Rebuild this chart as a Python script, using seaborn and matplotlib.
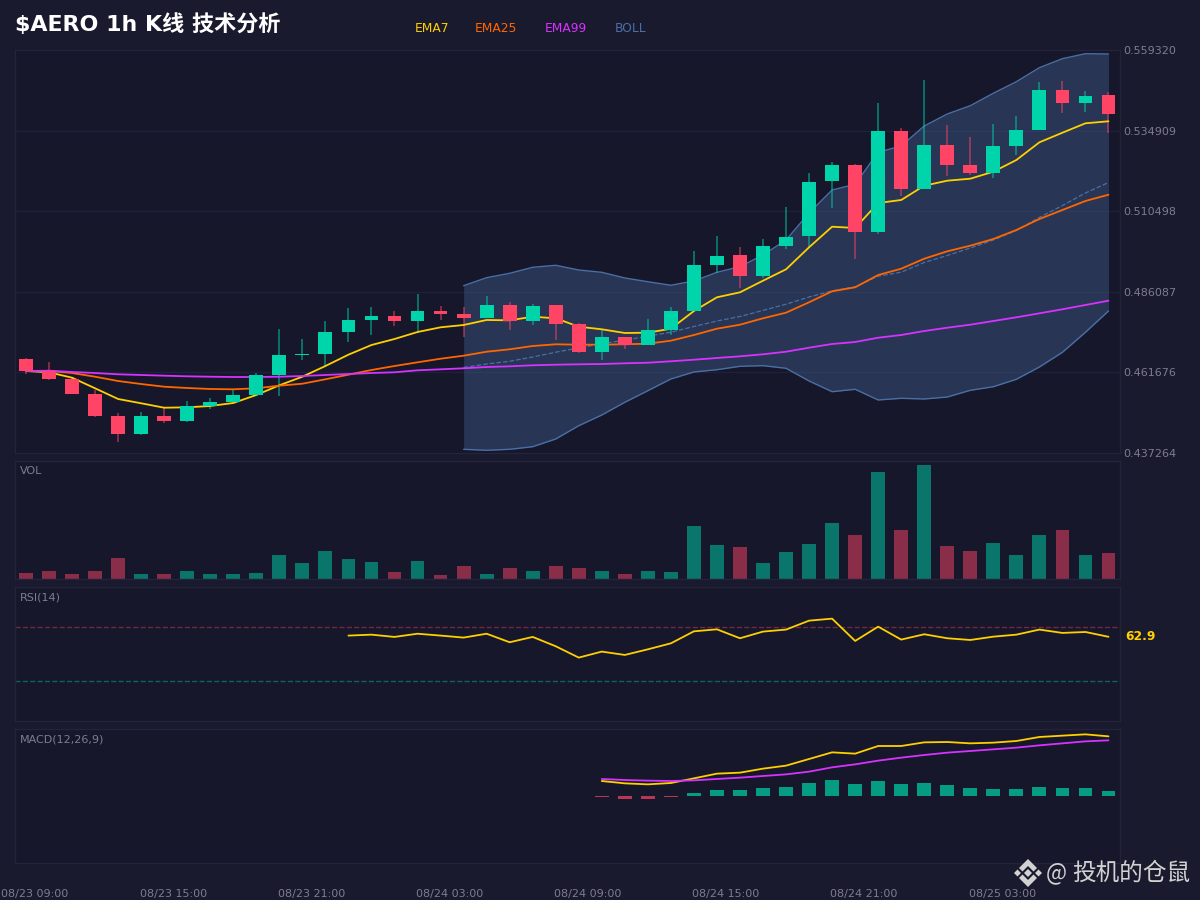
import numpy as np
import pandas as pd
import matplotlib
matplotlib.use('Agg')
import matplotlib.pyplot as plt
from matplotlib.patches import Polygon
import seaborn as sns

open_p = [.46574, .46210, .45968, .45513, .44856, .44302, .44838, .44705, .45150, .45271, .45483, .46080,
          .46685, .46725, .47382, .47764, .47867, .47733, .48036, .47936, .47824, .48200, .47724, .48200,
          .47643, .46794, .47240, .46997, .47452, .48036, .49429, .49714, .49096, .49996, .50308, .51964,
          .52458, .50411, .53488, .51731, .53064, .52449, .52207, .53025, .53518, .54721, .54327, .54560]
close_p = [.46210, .45977, .45528, .44862, .44302, .44847, .44705, .45150, .45271, .45483, .46080, .46694,
           .46725, .47382, .47755, .47867, .47733, .48036, .47927, .47824, .48200, .47724, .48179, .47643,
           .46776, .47240, .46988, .47452, .48027, .49420, .49702, .49087, .49987, .50277, .51943, .52458,
           .50411, .53488, .51731, .53055, .52449, .52207, .53015, .53509, .54721, .54327, .54548, .53985]
high_p = [.46604, .46482, .45998, .45634, .44938, .44968, .45120, .45292, .45392, .45634, .46140, .47473,
          .47170, .47724, .48118, .48157, .48027, .48533, .48179, .48148, .48481, .48300, .48248, .48210,
          .47655, .47491, .47250, .47785, .48139, .49835, .50308, .49956, .50199, .51186, .52198, .52549,
          .52479, .54318, .53570, .55023, .53651, .53288, .53682, .53933, .54963, .55002, .54699, .54660]
low_p = [.46119, .45937, .45513, .44826, .44069, .44281, .44644, .44674, .45068, .45271, .45483, .45462,
         .46543, .46340, .47088, .47291, .47573, .47352, .47764, .47249, .47824, .47461, .47612, .47158,
         .46746, .46552, .46867, .46997, .47309, .48036, .49169, .48733, .49036, .49896, .49956, .51156,
         .49602, .50368, .51519, .51731, .52125, .52155, .52064, .52752, .53500, .54024, .54054, .53427]

ema7 = [.46210, .46171, .46007, .45686, .45362, .45232, .45098, .45110, .45150, .45241, .45483, .45777,
        .46037, .46361, .46704, .46997, .47179, .47391, .47533, .47603, .47755, .47745, .47854, .47806,
        .47552, .47473, .47361, .47370, .47491, .48027, .48442, .48593, .48945, .49290, .49956, .50580,
        .50541, .51298, .51389, .51822, .51974, .52034, .52246, .52600, .53136, .53427, .53712, .53773]
ema25 = [.46210, .46210, .46149, .46037, .45907, .45816, .45734, .45695, .45665, .45656, .45686, .45765,
         .45825, .45959, .46098, .46240, .46361, .46473, .46582, .46673, .46794, .46867, .46967, .47019,
         .47007, .47007, .47019, .47037, .47128, .47300, .47491, .47612, .47806, .47976, .48291, .48624,
         .48745, .49117, .49308, .49611, .49835, .50005, .50208, .50480, .50813, .51086, .51359, .51549]
ema99 = [.46210, .46219, .46180, .46149, .46110, .46089, .46068, .46049, .46037, .46028, .46028, .46037,
         .46058, .46089, .46119, .46149, .46171, .46231, .46261, .46292, .46331, .46352, .46383, .46401,
         .46413, .46422, .46443, .46461, .46504, .46552, .46604, .46655, .46716, .46794, .46916, .47028,
         .47088, .47218, .47300, .47421, .47521, .47612, .47724, .47836, .47957, .48079, .48209, .48339]

boll_upper = [.48793, .49036, .49169, .49351, .49411, .49269, .49199, .49027, .48914, .48806, .48936, .49199,
              .49369, .49723, .50177, .50995, .51692, .51864, .52834, .53024, .53630, .53994, .54245, .54621,
              .54972, .55396, .55669, .55820, .55811]
boll_mid = [.46316, .46422, .46504, .46634, .46779, .46910, .47037, .47143, .47264, .47385, .47558, .47724,
            .47861, .48045, .48233, .48451, .48636, .48760, .49081, .49202, .49496, .49708, .49935, .50177,
            .50465, .50862, .51222, .51601, .51919]
boll_lower = [.43838, .43808, .43838, .43917, .44150, .44553, .44877, .45262, .45613, .45968, .46180, .46249,
              .46352, .46371, .46292, .45907, .45583, .45656, .45332, .45383, .45362, .45422, .45625, .45734,
              .45959, .46331, .46776, .47382, .48027]

volume = [57, 83, 47, 83, 213, 47, 53, 83, 47, 53, 57, 237, 157, 280, 203, 170, 67, 177, 40, 130, 53, 107, 83, 127,
          107, 83, 50, 83, 67, 530, 343, 320, 160, 273, 347, 560, 440, 1067, 487, 1137, 333, 283, 363, 243, 443, 490,
          240, 263]

rsi = [63.8, 64.5, 62.8, 65.2, 63.8, 62.3, 65.2, 58.8, 62.8, 55.8, 47.3, 51.8, 49.3, 53.5, 58.0, 67.0, 68.5,
       61.8, 66.8, 68.3, 75.0, 76.5, 59.8, 70.5, 60.8, 64.8, 61.8, 60.5, 63.0, 64.5, 68.3, 65.8, 66.5, 62.9]

macd = [.0030, .00253, .00233, .0026, .00353, .00447, .00467, .00547, .00607, .0074, .00873, .00847, .0100, .0100,
        .01073, .0108, .01053, .01067, .0110, .0118, .01207, .01233, .01193]
signal = [.0034, .0032, .00307, .0030, .00313, .0034, .00367, .0040, .00433, .00487, .00573, .00633, .00707, .00767,
          .0082, .00867, .009, .00933, .00967, .01013, .01053, .01093, .01113]
hist = [-.0002, -.0006, -.0006, -.0002, .00053, .0012, .0012, .00153, .00173, .00253, .00313, .00233, .003, .00247,
        .00253, .00213, .00153, .00133, .00133, .00173, .00167, .00153, .00093]

price_ticks = [0.437264, 0.461676, 0.486087, 0.510498, 0.534909, 0.559320]
time_labels = ['08/23 09:00', '08/23 15:00', '08/23 21:00', '08/24 03:00',
               '08/24 09:00', '08/24 15:00', '08/24 21:00', '08/25 03:00']

BG = '#1a1a2e'
PANEL = '#16172a'
EDGE = '#23233d'
GRID = '#20203a'
TXT = '#7d7d8e'
UP = '#00d4aa'
DOWN = '#ff4466'
C7, C25, C99, CB = '#ffd000', '#ff6600', '#d633ff', '#4a6fa5'
XLIM = (-0.477, 47.50)

sns.set_theme(style='dark', rc={'axes.facecolor': PANEL, 'figure.facecolor': BG})
plt.rcParams['font.family'] = ['DejaVu Sans', 'Noto Sans CJK SC']

fig = plt.figure(figsize=(12, 9), dpi=100)


def panel(top, bottom):
    ax = fig.add_axes([15 / 1200, 1 - bottom / 900, 1105 / 1200, (bottom - top) / 900])
    ax.set_xlim(*XLIM)
    ax.set_xticks([])
    ax.set_yticks([])
    ax.set_xlabel('')
    ax.set_ylabel('')
    for s in ax.spines.values():
        s.set_color(EDGE)
        s.set_linewidth(1)
    return ax


def line(ax, x, y, color, lw=1.3, z=3, **kw):
    sns.lineplot(x=x, y=y, ax=ax, color=color, linewidth=lw, zorder=z, estimator=None,
                 errorbar=None, legend=False, **kw)
    ax.set_xlabel('')
    ax.set_ylabel('')


idx = np.arange(len(open_p))
up = np.array(close_p) >= np.array(open_p)
colors = np.where(up, UP, DOWN)

# main price panel
ax = panel(50, 453)
ax.set_ylim(price_ticks[0], price_ticks[-1])
for p in price_ticks[1:-1]:
    ax.axhline(p, color=GRID, lw=1, zorder=1)

boll_x = idx[-len(boll_mid):]
ax.fill_between(boll_x, boll_lower, boll_upper, color=CB, alpha=0.35, lw=0, zorder=1.5)
line(ax, boll_x, boll_upper, CB, lw=1, z=2.5)
line(ax, boll_x, boll_lower, CB, lw=1, z=2.5)
line(ax, boll_x, boll_mid, CB, lw=0.9, z=2.5, linestyle='--')

ax.vlines(idx, low_p, high_p, colors=colors, lw=1.1, alpha=0.6, zorder=2.8)
line(ax, idx, ema7, C7)
line(ax, idx, ema25, C25)
line(ax, idx, ema99, C99)
ax.bar(idx, np.array(close_p) - np.array(open_p), bottom=open_p, width=0.6, color=colors, lw=0, zorder=4)
ax.set_xlim(*XLIM)
ax.set_ylim(price_ticks[0], price_ticks[-1])
ax.yaxis.tick_right()
ax.set_yticks(price_ticks)
ax.set_yticklabels([f'{p:.6f}' for p in price_ticks], fontsize=8, color=TXT)
ax.tick_params(axis='y', length=0, pad=2.5)

fig.text(15 / 1200, 1 - 24 / 900, '$AERO 1h K线 技术分析', color='white', fontsize=15.9, fontweight='bold',
         va='center', ha='left')
for name, col, px in [('EMA7', C7, 415), ('EMA25', C25, 475), ('EMA99', C99, 545), ('BOLL', CB, 615)]:
    fig.text(px / 1200, 1 - 28 / 900, name, color=col, fontsize=8.8, va='center', ha='left')

# volume
ax_vol = panel(461, 579)
vol_df = pd.DataFrame({'i': idx, 'v': volume, 'side': np.where(up, 'up', 'down')})
sns.barplot(data=vol_df, x='i', y='v', hue='side', palette={'up': UP, 'down': DOWN}, native_scale=True,
            dodge=False, width=0.6, alpha=0.5, saturation=1, legend=False, ax=ax_vol, linewidth=0)
ax_vol.set_xlim(*XLIM)
ax_vol.set_ylim(0, 1180)
ax_vol.set_xticks([])
ax_vol.set_yticks([])
ax_vol.set_xlabel('')
ax_vol.set_ylabel('')
ax_vol.text(5 / 1105, 0.915, 'VOL', transform=ax_vol.transAxes, color=TXT, fontsize=8, va='center')

# rsi
ax_rsi = panel(587.3, 720.7)
ax_rsi.set_ylim(0, 100)
ax_rsi.axhline(70, color=DOWN, lw=1, ls='--', alpha=0.4)
ax_rsi.axhline(30, color=UP, lw=1, ls='--', alpha=0.4)
line(ax_rsi, idx[-len(rsi):], rsi, C7)
ax_rsi.set_xlim(*XLIM)
ax_rsi.set_ylim(0, 100)
ax_rsi.text(5 / 1105, 0.925, 'RSI(14)', transform=ax_rsi.transAxes, color=TXT, fontsize=8, va='center')
ax_rsi.text(1.0045, rsi[-1], f'{rsi[-1]:.1f}', transform=ax_rsi.get_yaxis_transform(), color=C7, fontsize=8.8,
            fontweight='bold', va='center')

# macd
ax_macd = panel(729, 863)
macd_x = idx[-len(macd):]
hist_df = pd.DataFrame({'i': macd_x, 'h': hist, 'side': np.where(np.array(hist) >= 0, 'up', 'down')})
sns.barplot(data=hist_df, x='i', y='h', hue='side', palette={'up': UP, 'down': DOWN}, native_scale=True,
            dodge=False, width=0.6, alpha=0.7, saturation=1, legend=False, ax=ax_macd, linewidth=0)
line(ax_macd, macd_x, macd, C7)
line(ax_macd, macd_x, signal, C99)
ax_macd.set_xlim(*XLIM)
ax_macd.set_ylim(-0.0134, 0.0134)
ax_macd.set_yticks([])
ax_macd.set_xlabel('')
ax_macd.set_ylabel('')
ax_macd.text(5 / 1105, 0.925, 'MACD(12,26,9)', transform=ax_macd.transAxes, color=TXT, fontsize=8, va='center')
ax_macd.set_xticks(np.arange(0, 48, 6) + 0.39)
ax_macd.set_xticklabels(time_labels, fontsize=8, color=TXT)
ax_macd.tick_params(axis='x', length=0, pad=19)

# watermark
WM = '#d2d2d2'
fig.text(1046 / 1200, 1 - 873 / 900, '@', color=WM, fontsize=16, family=['Noto Sans CJK SC'], va='center')
fig.text(1072 / 1200, 1 - 873 / 900, '投机的仓鼠', color=WM, fontsize=17, family=['Noto Sans CJK SC'], va='center')
cx, cy = 1028 / 1200, 1 - 873 / 900
sx, sy = 1 / 1200, 1 / 900
shapes = [
    [(0, -4), (4, 0), (0, 4), (-4, 0)],
    [(-14, 0), (-10.5, -3.5), (-7, 0), (-10.5, 3.5)],
    [(14, 0), (10.5, -3.5), (7, 0), (10.5, 3.5)],
    [(0, -14), (9, -5), (5.5, -1.5), (0, -7), (-5.5, -1.5), (-9, -5)],
    [(0, 14), (9, 5), (5.5, 1.5), (0, 7), (-5.5, 1.5), (-9, 5)],
]
for pts in shapes:
    fig.add_artist(Polygon([(cx + a * sx, cy + b * sy) for a, b in pts], closed=True, facecolor=WM, edgecolor='none',
                           transform=fig.transFigure))

fig.savefig('out.png', dpi=100, facecolor=BG)
